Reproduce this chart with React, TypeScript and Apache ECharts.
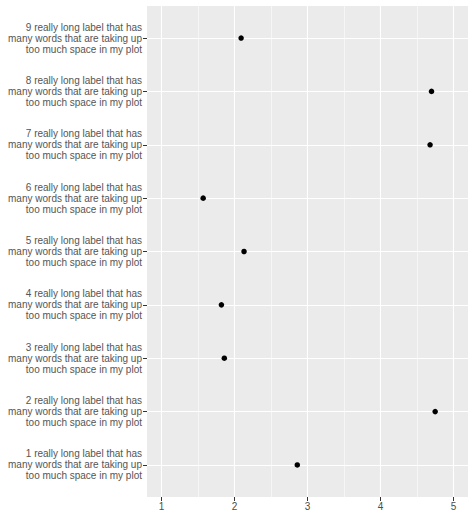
import { useEffect, useRef } from 'react'
import * as echarts from 'echarts'

// labels for y positions 1..9 (bottom to top)
const labels = [
  '1 really long label that has\nmany words that are taking up\ntoo much space in my plot',
  '2 really long label that has\nmany words that are taking up\ntoo much space in my plot',
  '3 really long label that has\nmany words that are taking up\ntoo much space in my plot',
  '4 really long label that has\nmany words that are taking up\ntoo much space in my plot',
  '5 really long label that has\nmany words that are taking up\ntoo much space in my plot',
  '6 really long label that has\nmany words that are taking up\ntoo much space in my plot',
  '7 really long label that has\nmany words that are taking up\ntoo much space in my plot',
  '8 really long label that has\nmany words that are taking up\ntoo much space in my plot',
  '9 really long label that has\nmany words that are taking up\ntoo much space in my plot'
]
const values = [2.86, 4.75, 1.86, 1.82, 2.13, 1.57, 4.68, 4.7, 2.09]
const yTicks = [1, 2, 3, 4, 5, 6, 7, 8, 9]
const xTicks = [1, 2, 3, 4, 5]
const xMinor = [1.5, 2.5, 3.5, 4.5]

const FONT = 'Liberation Sans, Arial, Helvetica, sans-serif'

export default function App() {
  const chartRef = useRef<HTMLDivElement>(null)

  useEffect(() => {
    document.body.style.margin = '0'
    if (!chartRef.current) return
    const chart = echarts.init(chartRef.current, undefined, { renderer: 'svg' })

    const gridLines = [
      ...xMinor.map((x) => ({ xAxis: x, lineStyle: { width: 0.55 } })),
      ...xTicks.map((x) => ({ xAxis: x, lineStyle: { width: 1.1 } })),
      ...yTicks.map((y) => ({ yAxis: y, lineStyle: { width: 1.1 } }))
    ]

    const option: echarts.EChartsOption = {
      animation: false,
      grid: {
        left: 147,
        right: 6,
        top: 6,
        bottom: 21,
        show: true,
        backgroundColor: '#EBEBEB',
        borderWidth: 0
      },
      xAxis: {
        type: 'value',
        min: 0.8,
        max: 5.2,
        splitLine: { show: false },
        axisLine: { show: false },
        axisTick: {
          show: true,
          customValues: xTicks,
          length: 4,
          lineStyle: { color: '#333333', width: 1 }
        },
        axisLabel: {
          customValues: xTicks,
          margin: 4,
          color: '#4D4D4D',
          fontSize: 10,
          fontFamily: FONT
        }
      } as any,
      yAxis: {
        type: 'value',
        min: 0.4,
        max: 9.6,
        splitLine: { show: false },
        axisLine: { show: false },
        axisTick: {
          show: true,
          customValues: yTicks,
          length: 4,
          lineStyle: { color: '#333333', width: 1 }
        },
        axisLabel: {
          customValues: yTicks,
          margin: 5,
          color: '#555555',
          fontSize: 10,
          lineHeight: 11,
          fontFamily: FONT,
          align: 'right',
          formatter: (v: number) => labels[Math.round(v) - 1] ?? ''
        }
      } as any,
      series: [
        {
          type: 'line',
          data: [],
          silent: true,
          z: 1,
          markLine: {
            silent: true,
            animation: false,
            symbol: ['none', 'none'],
            label: { show: false },
            lineStyle: { color: '#FFFFFF', type: 'solid', width: 1.1 },
            emphasis: { disabled: true },
            data: gridLines as any
          }
        },
        {
          type: 'scatter',
          z: 5,
          symbolSize: 5.5,
          itemStyle: { color: '#000000', opacity: 1 },
          data: values.map((v, i) => [v, yTicks[i]])
        }
      ]
    }

    chart.setOption(option)
    return () => chart.dispose()
  }, [])

  return <div ref={chartRef} style={{ width: 474, height: 518 }} />
}
